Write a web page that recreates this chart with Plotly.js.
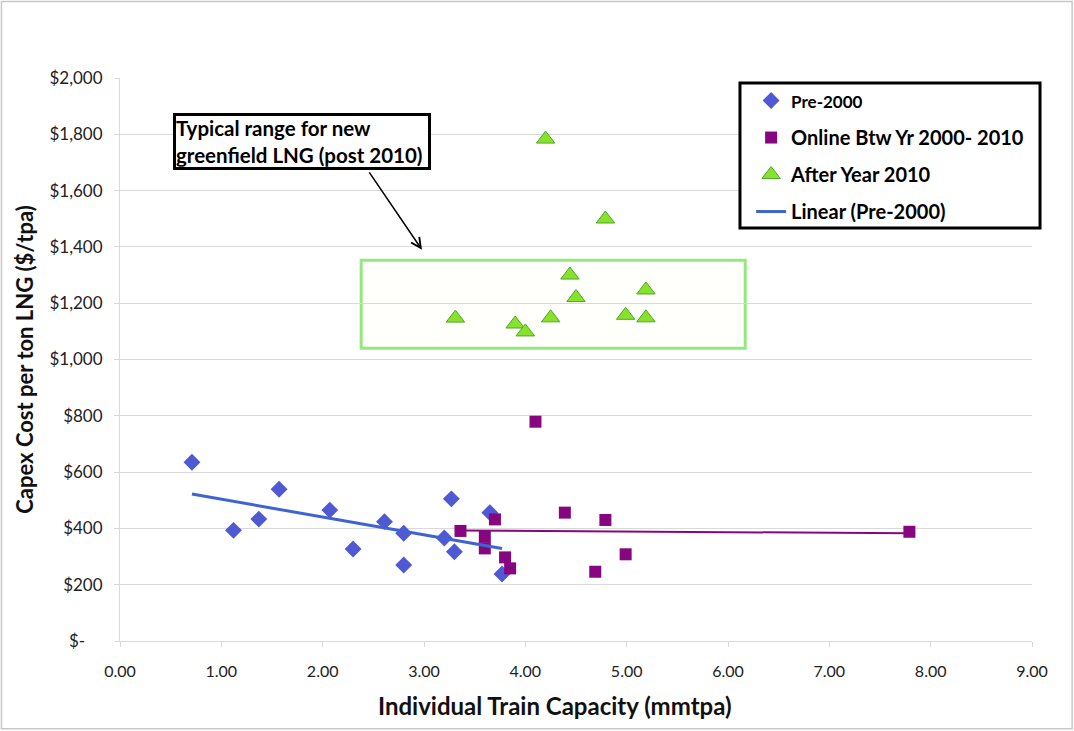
<!DOCTYPE html>
<html>
<head>
<meta charset="utf-8">
<script src="https://cdn.plot.ly/plotly-3.0.1.min.js"></script>
<style>html,body{margin:0;padding:0;background:#fff;}#chart{width:1074px;height:731px;}</style>
</head>
<body>
<div id="chart"></div>
<script>
// Pre-2000 trains
var preX = [0.71, 1.12, 1.37, 1.57, 2.07, 2.30, 2.61, 2.80, 2.80, 3.20, 3.27, 3.30, 3.65, 3.77];
var preY = [635, 393, 433, 539, 465, 327, 424, 383, 270, 366, 505, 317, 456, 238];
// Online between 2000 and 2010
var midX = [4.10, 3.36, 3.70, 4.39, 4.79, 3.60, 3.60, 3.80, 3.85, 4.69, 4.99, 7.79];
var midY = [779, 391, 432, 456, 430, 370, 329, 297, 258, 246, 308, 388];
// After year 2010
var postX = [4.20, 4.79, 4.44, 4.50, 5.19, 3.31, 3.90, 4.00, 4.25, 4.99, 5.19];
var postY = [1783, 1499, 1300, 1220, 1247, 1147, 1126, 1098, 1148, 1157, 1148];

var xTicks = [0, 1, 2, 3, 4, 5, 6, 7, 8, 9];
var yTicks = [0, 200, 400, 600, 800, 1000, 1200, 1400, 1600, 1800, 2000];
var yTickText = ['$-\u00A0\u00A0\u00A0\u00A0', '$200', '$400', '$600', '$800', '$1,000', '$1,200', '$1,400', '$1,600', '$1,800', '$2,000'];

// Typical range box (data units)
var rangeBoxX = [2.38, 6.17];
var rangeBoxY = [1040, 1353];

// least-squares linear trendline (as Excel "Linear" trendline)
function linFit(xs, ys) {
  var n = xs.length, sx = 0, sy = 0, sxx = 0, sxy = 0;
  for (var i = 0; i < n; i++) { sx += xs[i]; sy += ys[i]; sxx += xs[i]*xs[i]; sxy += xs[i]*ys[i]; }
  var m = (n*sxy - sx*sy) / (n*sxx - sx*sx);
  var b = (sy - m*sx) / n;
  var x0 = Math.min.apply(null, xs), x1 = Math.max.apply(null, xs);
  return {x: [x0, x1], y: [m*x0 + b, m*x1 + b]};
}
var preFit = linFit(preX, preY);
var midFit = linFit(midX, midY);

var FONT = 'Lato, "Open Sans", sans-serif';

var traces = [
  {x: preX, y: preY, type: 'scatter', mode: 'markers', name: '<span style="font-size:17px">Pre-2000</span>',
   legendgroup: 'g1',
   marker: {symbol: 'diamond', size: 13, color: '#5059D4', line: {width: 0}}},
  {x: midX, y: midY, type: 'scatter', mode: 'markers', name: 'Online Btw Yr 2000- 2010',
   legendgroup: 'g2',
   marker: {symbol: 'square', size: 12, color: '#86067F', line: {width: 0}}},
  {x: postX, y: postY, type: 'scatter', mode: 'markers', name: 'After Year 2010',
   legendgroup: 'g3',
   marker: {symbol: 'triangle-up', size: 16, color: '#86E22A', line: {width: 1, color: '#4FA82A'}}},
  {x: preFit.x, y: preFit.y, type: 'scatter', mode: 'lines', name: 'Linear (Pre-2000)',
   legendgroup: 'g4',
   line: {color: '#3F63D3', width: 3}},
  {x: midFit.x, y: midFit.y, type: 'scatter', mode: 'lines', name: 'Linear (Online)', showlegend: false,
   legendgroup: 'g5',
   line: {color: '#86067F', width: 2}}
];

var layout = {
  width: 1074, height: 731,
  margin: {l: 120, r: 42, t: 78, b: 90},
  paper_bgcolor: '#ffffff', plot_bgcolor: '#ffffff',
  font: {family: FONT, color: '#000'},
  showlegend: true,
  legend: {x: 0.692, y: 0.9946, xanchor: 'left', yanchor: 'top',
           borderwidth: 0, bgcolor: 'rgba(0,0,0,0)',
           font: {family: FONT, size: 20, color: '#000', weight: 'bold'},
           traceorder: 'grouped', tracegroupgap: 8},
  xaxis: {range: [0, 9], tickvals: xTicks, tickformat: '.2f',
          showgrid: false, zeroline: false, showline: true, linecolor: '#D9D9D9', linewidth: 1,
          ticks: 'outside', ticklen: 5, tickcolor: '#D9D9D9', ticklabelstandoff: 11,
          tickfont: {family: FONT, size: 16, color: '#222'}},
  yaxis: {range: [0, 2000], tickvals: yTicks, ticktext: yTickText,
          showgrid: true, gridcolor: '#D9D9D9', gridwidth: 1, zeroline: false,
          showline: true, linecolor: '#D9D9D9', linewidth: 1,
          ticks: 'outside', ticklen: 5, tickcolor: '#D9D9D9', ticklabelstandoff: 8,
          tickfont: {family: FONT, size: 17, color: '#222'},
          title: {text: 'Capex Cost per ton LNG ($/tpa)', standoff: 9,
                  font: {family: FONT, size: 22, color: '#111', weight: 'bold'}}},
  shapes: [
    {type: 'rect', xref: 'x', yref: 'y', x0: rangeBoxX[0], x1: rangeBoxX[1], y0: rangeBoxY[0], y1: rangeBoxY[1],
     line: {color: '#93E87F', width: 3}, fillcolor: 'rgba(255,255,235,0.2)', layer: 'below'},
    // legend frame
    {type: 'rect', xref: 'paper', yref: 'paper', x0: 0.6798, x1: 1.0088, y0: 0.7336, y1: 0.9911,
     line: {color: '#000', width: 3}, fillcolor: '#ffffff', layer: 'above'},
    // chart-area border
    {type: 'rect', xref: 'paper', yref: 'paper', x0: -0.13, x1: 1.044, y0: -0.156, y1: 1.136,
     line: {color: '#C8C8C8', width: 1.5}, fillcolor: 'rgba(0,0,0,0)'}
  ],
  annotations: [
    {xref: 'paper', yref: 'paper', x: 0.477, y: -0.114, xanchor: 'center', yanchor: 'middle',
     text: 'Individual Train Capacity (mmtpa)', showarrow: false,
     font: {family: FONT, size: 24, color: '#111', weight: 'bold'}},
    {xref: 'paper', yref: 'paper', x: 0.0581, y: 0.9378, xanchor: 'left', yanchor: 'top',
     text: 'Typical range for new<br>greenfield LNG (post 2010)', align: 'left', showarrow: false,
     width: 252,
     font: {family: FONT, size: 20.5, color: '#000', weight: 'bold'},
     bordercolor: '#000', borderwidth: 3, borderpad: 0, bgcolor: '#fff'},
    {xref: 'x', yref: 'y', x: 2.98, y: 1390, axref: 'x', ayref: 'y', ax: 2.45, ay: 1670,
     text: '', showarrow: true, arrowhead: 5, arrowsize: 1.3, arrowwidth: 1.5, arrowcolor: '#000', standoff: 0}
  ]
};

Plotly.newPlot('chart', traces, layout, {displayModeBar: false, staticPlot: true});
</script>
</body>
</html>
